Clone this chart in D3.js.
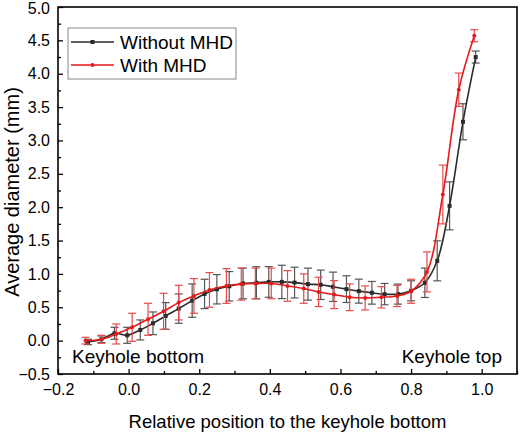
<!DOCTYPE html>
<html>
<head>
<meta charset="utf-8">
<script src="https://cdn.jsdelivr.net/npm/d3@7"></script>
<style>
  body { margin: 0; background: #fff; }
  text { font-family: "Liberation Sans", Arial, sans-serif; fill: #000; }
</style>
</head>
<body>
<script>
//dims
const width = 520, height = 433;
const margin = { left: 58, right: 3, top: 7, bottom: 59 };

// data
const xNoMhd = [-0.115, -0.077, -0.04, -0.004, 0.033, 0.069, 0.105, 0.142, 0.18, 0.215, 0.25, 0.285, 0.324, 0.362, 0.397, 0.434,
  0.47, 0.508, 0.544, 0.579, 0.617, 0.652, 0.689, 0.725, 0.763, 0.80, 0.839, 0.874, 0.909, 0.947, 0.983];
const yNoMhd = [-0.02, 0.02, 0.11, 0.08, 0.16, 0.26, 0.37, 0.48, 0.60, 0.70, 0.77, 0.815, 0.857, 0.867, 0.88, 0.88,
  0.87, 0.847, 0.837, 0.807, 0.772, 0.742, 0.717, 0.697, 0.697, 0.747, 0.867, 1.196, 2.02, 3.28, 4.25];
const eNoMhd = [0.04, 0.05, 0.09, 0.12, 0.15, 0.17, 0.2, 0.22, 0.25, 0.22, 0.22, 0.22, 0.23, 0.24, 0.23, 0.25,
  0.23, 0.24, 0.22, 0.22, 0.2, 0.18, 0.17, 0.16, 0.15, 0.15, 0.22, 0.3, 0.36, 0.27, 0.09];

const xMhd = [-0.122, -0.077, -0.035, 0.01, 0.055, 0.099, 0.142, 0.185, 0.229, 0.277, 0.319, 0.359, 0.404,
  0.45, 0.496, 0.538, 0.582, 0.626, 0.67, 0.716, 0.76, 0.80, 0.845, 0.89, 0.935, 0.979];
const yMhd = [0.0, 0.02, 0.10, 0.20, 0.32, 0.44, 0.57, 0.67, 0.76, 0.82, 0.847, 0.857, 0.857,
  0.82, 0.78, 0.73, 0.69, 0.65, 0.64, 0.65, 0.67, 0.74, 1.03, 2.19, 3.76, 4.57];
const eMhd = [0.05, 0.06, 0.15, 0.21, 0.24, 0.27, 0.26, 0.26, 0.26, 0.26, 0.24, 0.23, 0.23,
  0.23, 0.22, 0.22, 0.21, 0.2, 0.18, 0.16, 0.16, 0.18, 0.3, 0.44, 0.25, 0.09];

const xTicks = [-0.2, 0.0, 0.2, 0.4, 0.6, 0.8, 1.0];
const yTicks = [-0.5, 0.0, 0.5, 1.0, 1.5, 2.0, 2.5, 3.0, 3.5, 4.0, 4.5, 5.0];
const seriesNames = ['Without MHD', 'With MHD'];
const seriesColors = ['#2b2b2b', '#e41a1c'];
const barColors = ['#555555', '#e8494b'];

const svg = d3.select('body').append('svg')
  .attr('width', width)
  .attr('height', height);

const x = d3.scaleLinear().domain([-0.2, 1.1]).range([margin.left, width - margin.right]);
const y = d3.scaleLinear().domain([-0.5, 5.0]).range([height - margin.bottom, margin.top]);

// ticks (inward), major + minor
const xAxis = d3.axisBottom(x).tickValues(xTicks).tickSize(-5).tickPadding(10).tickFormat(d3.format('.1f'));
const xMinor = d3.axisBottom(x).tickValues(d3.range(-0.1, 1.1, 0.2)).tickSize(-3).tickFormat('');
const yAxis = d3.axisLeft(y).tickValues(yTicks).tickSize(-5).tickPadding(8).tickFormat(d3.format('.1f'));
const yMinor = d3.axisLeft(y).tickValues(d3.range(-0.25, 5, 0.5)).tickSize(-3).tickFormat('');

function styleAxis(g) {
  g.select('.domain').remove();
  g.selectAll('line').attr('stroke', '#000').attr('stroke-width', 1.3);
  g.selectAll('text').style('font-size', '16px').attr('fill', '#000');
}
svg.append('g').attr('transform', `translate(0,${height - margin.bottom})`).call(xAxis).call(styleAxis);
svg.append('g').attr('transform', `translate(0,${height - margin.bottom})`).call(xMinor).call(styleAxis);
svg.append('g').attr('transform', `translate(${margin.left},0)`).call(yAxis).call(styleAxis)
  .selectAll('text').filter(d => d === 5.0).attr('dy', '0.4em');
svg.append('g').attr('transform', `translate(${margin.left},0)`).call(yMinor).call(styleAxis);

// frame
svg.append('rect')
  .attr('x', margin.left).attr('y', margin.top)
  .attr('width', width - margin.right - margin.left)
  .attr('height', height - margin.bottom - margin.top)
  .attr('fill', 'none').attr('stroke', '#000').attr('stroke-width', 1.6);

// series
const series = [
  { xs: xNoMhd, ys: yNoMhd, es: eNoMhd, marker: 'square' },
  { xs: xMhd, ys: yMhd, es: eMhd, marker: 'circle' }
];
const line = d3.line().x(d => x(d[0])).y(d => y(d[1])).curve(d3.curveCatmullRom.alpha(0.5));

series.forEach((s, i) => {
  const pts = s.xs.map((v, j) => [v, s.ys[j], s.es[j]]);
  const g = svg.append('g');
  // error bars
  const bars = g.selectAll('.bar').data(pts).enter().append('g')
    .attr('stroke', barColors[i]).attr('stroke-width', 1.2);
  bars.append('line')
    .attr('x1', d => x(d[0])).attr('x2', d => x(d[0]))
    .attr('y1', d => y(d[1] - d[2])).attr('y2', d => y(d[1] + d[2]));
  bars.append('line')
    .attr('x1', d => x(d[0]) - 4).attr('x2', d => x(d[0]) + 4)
    .attr('y1', d => y(d[1] + d[2])).attr('y2', d => y(d[1] + d[2]));
  bars.append('line')
    .attr('x1', d => x(d[0]) - 4).attr('x2', d => x(d[0]) + 4)
    .attr('y1', d => y(d[1] - d[2])).attr('y2', d => y(d[1] - d[2]));
  // curve
  g.append('path').datum(pts)
    .attr('fill', 'none').attr('stroke', seriesColors[i]).attr('stroke-width', 1.6)
    .attr('d', line);
  // markers
  if (s.marker === 'square') {
    g.selectAll('.pt').data(pts).enter().append('rect')
      .attr('x', d => x(d[0]) - 2).attr('y', d => y(d[1]) - 2)
      .attr('width', 4).attr('height', 4).attr('fill', seriesColors[i]);
  } else {
    g.selectAll('.pt').data(pts).enter().append('circle')
      .attr('cx', d => x(d[0])).attr('cy', d => y(d[1]))
      .attr('r', 2).attr('fill', seriesColors[i]);
  }
});

// legend
const legend = svg.append('g').attr('transform', 'translate(68,28)');
legend.append('rect').attr('width', 168).attr('height', 51)
  .attr('fill', '#fff').attr('stroke', '#888').attr('stroke-width', 1);
seriesNames.forEach((name, i) => {
  const ly = 14 + i * 23;
  legend.append('line').attr('x1', 3).attr('x2', 46).attr('y1', ly).attr('y2', ly)
    .attr('stroke', seriesColors[i]).attr('stroke-width', 1.6);
  if (i === 0) legend.append('rect').attr('x', 22.5).attr('y', ly - 2).attr('width', 4).attr('height', 4).attr('fill', seriesColors[i]);
  else legend.append('circle').attr('cx', 24.5).attr('cy', ly).attr('r', 2).attr('fill', seriesColors[i]);
  legend.append('text').attr('x', 52).attr('y', ly + 7).style('font-size', '19px').text(name);
});

// annotations
svg.append('text').attr('x', 72).attr('y', 363).style('font-size', '19px').text('Keyhole bottom');
svg.append('text').attr('x', 502).attr('y', 363).attr('text-anchor', 'end').style('font-size', '19px').text('Keyhole top');

// axis titles
svg.append('text').attr('x', (margin.left + width - margin.right) / 2).attr('y', 428)
  .attr('text-anchor', 'middle').style('font-size', '18.5px').text('Relative position to the keyhole bottom');
svg.append('text').attr('transform', `translate(19,192) rotate(-90)`)
  .attr('text-anchor', 'middle').style('font-size', '20px').text('Average diameter (mm)');
</script>
</body>
</html>
